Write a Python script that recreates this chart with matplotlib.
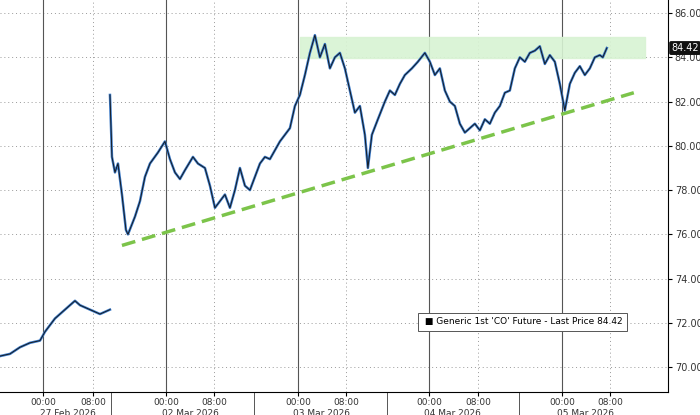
import matplotlib
matplotlib.use("Agg")
import matplotlib.pyplot as plt
import numpy as np

# bar index (trading-bar position) and prices
bars_feb27 = [0,10,20,30,40,45,50,55,60,65,70,75,80,85,90,95,100,105,110]
px_feb27 = [70.5,70.6,70.9,71.1,71.2,71.6,71.9,72.2,72.4,72.6,72.8,73.0,72.8,72.7,72.6,72.5,72.4,72.5,72.6]
bars_main = [110,112,115,118,122,126,128,135,140,145,150,158,165,170,175,180,185,193,198,205,210,215,220,225,230,235,240,245,250,255,260,265,270,275,280,285,290,295,300,305,310,315,320,325,330,335,340,345,350,355,360,365,368,372,378,385,390,395,400,405,412,418,425,430,435,440,445,450,455,460,465,470,475,480,485,490,495,500,505,510,515,520,525,530,535,540,545,550,555,560,565,570,575,580,585,590,595,600,603,607]
px_main = [82.3,79.5,78.8,79.2,77.8,76.2,76.0,76.8,77.5,78.6,79.2,79.7,80.2,79.4,78.8,78.5,78.9,79.5,79.2,79.0,78.2,77.2,77.5,77.8,77.2,78.0,79.0,78.2,78.0,78.6,79.2,79.5,79.4,79.8,80.2,80.5,80.8,81.8,82.3,83.2,84.2,85.0,84.0,84.6,83.5,84.0,84.2,83.5,82.5,81.5,81.8,80.5,79.0,80.5,81.2,82.0,82.5,82.3,82.8,83.2,83.5,83.8,84.2,83.8,83.2,83.5,82.5,82.0,81.8,81.0,80.6,80.8,81.0,80.7,81.2,81.0,81.5,81.8,82.4,82.5,83.5,84.0,83.8,84.2,84.3,84.5,83.7,84.1,83.8,82.8,81.6,82.8,83.3,83.6,83.2,83.5,84.0,84.1,84.0,84.42]
tick_bars = [43,93,166,214,298,346,429,478,562,610]
tick_labels = ["00:00","08:00"]*5
day_sep = [111,254,387,519]
day_labels = ["27 Feb 2026","02 Mar 2026","03 Mar 2026","04 Mar 2026","05 Mar 2026"]
day_centers = [68,190,322,453,586]
trend_x = [122,634]; trend_y = [75.5,82.4]
zone_x = [300,645]; zone_y = [83.96,84.9]
last_price = 84.42

fig = plt.figure(figsize=(7,4.15), dpi=100)
ax = fig.add_axes([0,0.055,0.954,0.945])
ax.set_xlim(0,668); ax.set_ylim(68.87,86.59)
for s in ["top","left"]:
    ax.spines[s].set_visible(False)
ax.yaxis.tick_right()
ax.set_yticks(np.arange(70,87,2))
ax.set_yticklabels([f"{v:.2f}" for v in np.arange(70,87,2)], fontsize=7, color="#333")
for v in np.arange(70,87,2):
    ax.axhline(v, color="#999", lw=0.7, ls=(0,(1,3)), zorder=0)
for i,t in enumerate(tick_bars):
    if i%2==0:
        ax.axvline(t, color="#555", lw=0.8, zorder=0)
    else:
        ax.axvline(t, color="#999", lw=0.7, ls=(0,(1,3)), zorder=0)
ax.set_xticks(tick_bars)
ax.set_xticklabels(tick_labels, fontsize=6.5, color="#333")
ax.tick_params(axis="x", length=3, pad=1)
ax.tick_params(axis="y", length=3, pad=2)
for d in day_sep:
    ax.plot([d,d],[-0.1,0],transform=ax.get_xaxis_transform(),color="#555",lw=0.7,clip_on=False)
for c,l in zip(day_centers,day_labels):
    ax.text(c,-0.042,l,transform=ax.get_xaxis_transform(),ha="center",va="top",fontsize=6.5,color="#333")
ax.fill_between(zone_x, zone_y[0], zone_y[1], color="#d8f3d3", alpha=0.9, zorder=1)
ax.plot(trend_x, trend_y, color="#7cc44a", lw=2.5, ls=(0,(4,2)), zorder=2)
for bx,py in [(bars_feb27,px_feb27),(bars_main,px_main)]:
    ax.plot(bx,py,color="#3a78c5",lw=1.8,zorder=3)
    ax.plot(bx,py,color="#111",lw=0.6,zorder=4)
ax.text(1.005,(last_price-68.87)/(86.59-68.87),f"{last_price:.2f}",transform=ax.transAxes,
        fontsize=7,color="white",va="center",ha="left",
        bbox=dict(boxstyle="round,pad=0.2",fc="#111",ec="none"))
ax.text(0.632,0.18," \u25a0 Generic 1st 'CO' Future - Last Price 84.42",transform=ax.transAxes,
        fontsize=6.5,va="center",ha="left",
        bbox=dict(boxstyle="square,pad=0.5",fc="white",ec="#555",lw=0.7))
fig.savefig("out.png", dpi=100)
